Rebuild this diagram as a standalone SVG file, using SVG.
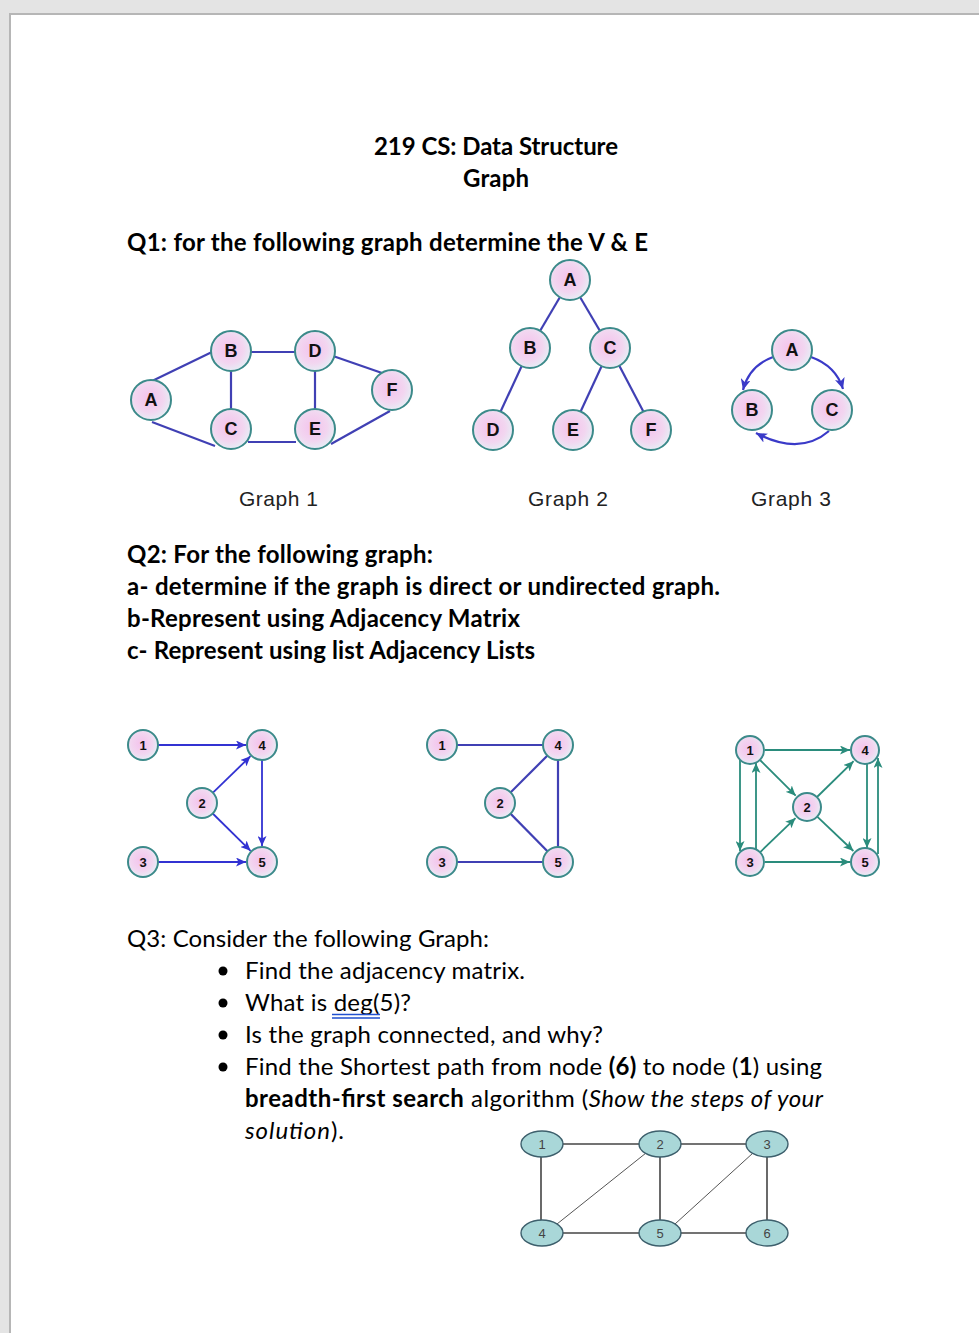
<svg xmlns="http://www.w3.org/2000/svg" width="979" height="1333" viewBox="0 0 979 1333">
<defs>
<radialGradient id="pink" cx="0.45" cy="0.45" r="0.6">
<stop offset="0" stop-color="#f4c2ec"/>
<stop offset="0.6" stop-color="#f2d6f0"/>
<stop offset="1" stop-color="#e4f2f6"/>
</radialGradient>
<marker id="arB" markerUnits="userSpaceOnUse" markerWidth="10" markerHeight="9" refX="10" refY="4.5" orient="auto"><path d="M0,0 L10,4.5 L0,9 L2.5,4.5 z" fill="#3232d2"/></marker>
<marker id="arB2" markerUnits="userSpaceOnUse" markerWidth="11" markerHeight="10" refX="11" refY="5" orient="auto"><path d="M0,0 L11,5 L0,10 L3,5 z" fill="#3a3ac8"/></marker>
<marker id="arT" markerUnits="userSpaceOnUse" markerWidth="10" markerHeight="9" refX="10" refY="4.5" orient="auto"><path d="M0,0 L10,4.5 L0,9 L2.5,4.5 z" fill="#2a8c7c"/></marker>
<style>
.t{font-family:"Lato","Open Sans",sans-serif;font-size:24px;fill:#000}
.b{font-weight:bold}
.i{font-style:italic}
.gl{font-family:"Liberation Sans",Arial,sans-serif;font-size:21px;fill:#222}
.n{fill:url(#pink);stroke:#3c8a8a;stroke-width:2}
.nl{font-family:"Liberation Sans",Arial,sans-serif;font-weight:bold;font-size:18px;fill:#111;text-anchor:middle}
.ns{font-family:"Liberation Sans",Arial,sans-serif;font-weight:bold;font-size:13px;fill:#111;text-anchor:middle}
.e{stroke:#4040b4;stroke-width:2.2;fill:none}
.ed{stroke:#3232d2;stroke-width:1.8;fill:none;marker-end:url(#arB)}
.ea{stroke:#3a3ac8;stroke-width:2.2;fill:none;marker-end:url(#arB2)}
.et{stroke:#2a8c7c;stroke-width:1.8;fill:none;marker-end:url(#arT)}
.q{stroke:#444;stroke-width:1.6;fill:none}
.qt{stroke:#555;stroke-width:1;fill:none}
.el{fill:#a9d7d8;stroke:#3d5f6c;stroke-width:1.4}
.el2{font-family:"Liberation Sans",Arial,sans-serif;font-size:13px;fill:#444;text-anchor:middle}
</style>
</defs>
<rect x="0" y="0" width="979" height="1333" fill="#e4e4e4"/>
<rect x="10" y="14" width="980" height="1330" fill="#ffffff" stroke="#b6b6b6" stroke-width="2"/>

<g id="texts">
<text class="t b" x="374" y="155" textLength="244" lengthAdjust="spacing">219 CS: Data Structure</text>
<text class="t b" x="463" y="187" textLength="66" lengthAdjust="spacing">Graph</text>
<text class="t b" x="127" y="251" textLength="521" lengthAdjust="spacing">Q1: for the following graph determine the V &amp; E</text>
<text class="gl" x="239" y="506" textLength="79" lengthAdjust="spacing">Graph 1</text>
<text class="gl" x="528" y="506" textLength="80" lengthAdjust="spacing">Graph 2</text>
<text class="gl" x="751" y="506" textLength="80" lengthAdjust="spacing">Graph 3</text>
<text class="t b" x="127" y="563" textLength="306" lengthAdjust="spacing">Q2: For the following graph:</text>
<text class="t b" x="127" y="595" textLength="593" lengthAdjust="spacing">a- determine if the graph is direct or undirected graph.</text>
<text class="t b" x="127" y="627" textLength="393" lengthAdjust="spacing">b-Represent using Adjacency Matrix</text>
<text class="t b" x="127" y="659" textLength="408" lengthAdjust="spacing">c- Represent using list Adjacency Lists</text>
<text class="t" x="127" y="947" textLength="362" lengthAdjust="spacing">Q3: Consider the following Graph:</text>
<circle cx="223" cy="971" r="4.5" fill="#000"/>
<circle cx="223" cy="1003" r="4.5" fill="#000"/>
<circle cx="223" cy="1035" r="4.5" fill="#000"/>
<circle cx="223" cy="1067" r="4.5" fill="#000"/>
<text class="t" x="245" y="979" textLength="280" lengthAdjust="spacing">Find the adjacency matrix.</text>
<text class="t" x="245" y="1011" textLength="166" lengthAdjust="spacing">What is deg(5)?</text>
<path d="M332,1014.5 H380 M332,1018 H380" stroke="#2050d0" stroke-width="1.3"/>
<text class="t" x="245" y="1043" textLength="358" lengthAdjust="spacing">Is the graph connected, and why?</text>
<text class="t" x="245" y="1075" textLength="577" lengthAdjust="spacing">Find the Shortest path from node <tspan class="b">(6)</tspan> to node (<tspan class="b">1</tspan>) using</text>
<text class="t" x="245" y="1107" textLength="578" lengthAdjust="spacing"><tspan class="b">breadth-first search</tspan> algorithm (<tspan class="i">Show the steps of your</tspan></text>
<text class="t" x="245" y="1139" textLength="99" lengthAdjust="spacing"><tspan class="i">solution</tspan>).</text>
</g>

<g id="connectors">
<!-- Graph 1 -->
<line class="e" x1="150" y1="382" x2="212" y2="352"/>
<line class="e" x1="152" y1="422" x2="215" y2="446"/>
<line class="e" x1="232" y1="352" x2="315" y2="352"/>
<line class="e" x1="231" y1="352" x2="231" y2="428"/>
<line class="e" x1="315" y1="352" x2="315" y2="428"/>
<line class="e" x1="248" y1="442" x2="296" y2="442"/>
<line class="e" x1="333" y1="356" x2="382" y2="373"/>
<line class="e" x1="331" y1="444" x2="390" y2="411"/>
<!-- Graph 2 -->
<line class="e" x1="570" y1="280" x2="530" y2="348"/>
<line class="e" x1="570" y1="280" x2="610" y2="348"/>
<line class="e" x1="530" y1="348" x2="493" y2="428"/>
<line class="e" x1="610" y1="348" x2="573" y2="428"/>
<line class="e" x1="610" y1="348" x2="652" y2="428"/>
<!-- Graph 3 -->
<path class="ea" d="M773,357 Q749,366 743,390"/>
<path class="ea" d="M811,357 Q836,366 843,389"/>
<path class="ea" d="M829,431 Q800,456 756,433"/>
<!-- Q2 directed -->
<line class="ed" x1="158" y1="745" x2="246" y2="745"/>
<line class="ed" x1="213" y1="792.6" x2="250.5" y2="756.2"/>
<line class="ed" x1="212.7" y1="813.5" x2="250.6" y2="850.8"/>
<line class="ed" x1="262" y1="760" x2="262" y2="846"/>
<line class="ed" x1="158" y1="862" x2="246" y2="862"/>
<!-- Q2 undirected -->
<line class="e" x1="442" y1="745" x2="558" y2="745"/>
<line class="e" x1="558" y1="745" x2="500" y2="803"/>
<line class="e" x1="500" y1="803" x2="558" y2="862"/>
<line class="e" x1="558" y1="745" x2="558" y2="862"/>
<line class="e" x1="442" y1="862" x2="558" y2="862"/>
<!-- Q2 teal -->
<line class="et" x1="765" y1="750" x2="850" y2="750"/>
<line class="et" x1="760" y1="760" x2="795.7" y2="795.7"/>
<line class="et" x1="817" y1="797" x2="853.6" y2="761.2"/>
<line class="et" x1="817.2" y1="816.6" x2="853.4" y2="851"/>
<line class="et" x1="760" y1="852.3" x2="795.5" y2="818.1"/>
<line class="et" x1="765" y1="862" x2="850" y2="862"/>
<line class="et" x1="740" y1="760" x2="740" y2="851"/>
<line class="et" x1="756" y1="849" x2="756" y2="763"/>
<line class="et" x1="867" y1="764" x2="867" y2="848"/>
<line class="et" x1="878" y1="854" x2="878" y2="758"/>
<!-- Q3 -->
<line class="q" x1="541" y1="1144" x2="660" y2="1144"/>
<line class="q" x1="660" y1="1144" x2="767" y2="1144"/>
<line class="q" x1="541" y1="1144" x2="541" y2="1233"/>
<line class="q" x1="660" y1="1144" x2="660" y2="1233"/>
<line class="q" x1="767" y1="1144" x2="767" y2="1233"/>
<line class="q" x1="541" y1="1233" x2="660" y2="1233"/>
<line class="q" x1="660" y1="1233" x2="767" y2="1233"/>
<line class="qt" x1="557" y1="1224" x2="646" y2="1153"/>
<line class="qt" x1="675" y1="1224" x2="753" y2="1153"/>
</g>

<g id="g1-A"><circle class="n" cx="151" cy="400" r="20"/><text class="nl" x="151" y="406">A</text></g>
<g id="g1-B"><circle class="n" cx="231" cy="351" r="20"/><text class="nl" x="231" y="357">B</text></g>
<g id="g1-D"><circle class="n" cx="315" cy="351" r="20"/><text class="nl" x="315" y="357">D</text></g>
<g id="g1-F"><circle class="n" cx="392" cy="390" r="20"/><text class="nl" x="392" y="396">F</text></g>
<g id="g1-C"><circle class="n" cx="231" cy="429" r="20"/><text class="nl" x="231" y="435">C</text></g>
<g id="g1-E"><circle class="n" cx="315" cy="429" r="20"/><text class="nl" x="315" y="435">E</text></g>

<g id="g2-A"><circle class="n" cx="570" cy="280" r="20"/><text class="nl" x="570" y="286">A</text></g>
<g id="g2-B"><circle class="n" cx="530" cy="348" r="20"/><text class="nl" x="530" y="354">B</text></g>
<g id="g2-C"><circle class="n" cx="610" cy="348" r="20"/><text class="nl" x="610" y="354">C</text></g>
<g id="g2-D"><circle class="n" cx="493" cy="430" r="20"/><text class="nl" x="493" y="436">D</text></g>
<g id="g2-E"><circle class="n" cx="573" cy="430" r="20"/><text class="nl" x="573" y="436">E</text></g>
<g id="g2-F"><circle class="n" cx="651" cy="430" r="20"/><text class="nl" x="651" y="436">F</text></g>

<g id="g3-A"><circle class="n" cx="792" cy="350" r="20"/><text class="nl" x="792" y="356">A</text></g>
<g id="g3-B"><circle class="n" cx="752" cy="410" r="20"/><text class="nl" x="752" y="416">B</text></g>
<g id="g3-C"><circle class="n" cx="832" cy="410" r="20"/><text class="nl" x="832" y="416">C</text></g>

<g id="d-1"><circle class="n" cx="143" cy="745" r="15"/><text class="ns" x="143" y="750">1</text></g>
<g id="d-4"><circle class="n" cx="262" cy="745" r="15"/><text class="ns" x="262" y="750">4</text></g>
<g id="d-2"><circle class="n" cx="202" cy="803" r="15"/><text class="ns" x="202" y="808">2</text></g>
<g id="d-3"><circle class="n" cx="143" cy="862" r="15"/><text class="ns" x="143" y="867">3</text></g>
<g id="d-5"><circle class="n" cx="262" cy="862" r="15"/><text class="ns" x="262" y="867">5</text></g>

<g id="u-1"><circle class="n" cx="442" cy="745" r="15"/><text class="ns" x="442" y="750">1</text></g>
<g id="u-4"><circle class="n" cx="558" cy="745" r="15"/><text class="ns" x="558" y="750">4</text></g>
<g id="u-2"><circle class="n" cx="500" cy="803" r="15"/><text class="ns" x="500" y="808">2</text></g>
<g id="u-3"><circle class="n" cx="442" cy="862" r="15"/><text class="ns" x="442" y="867">3</text></g>
<g id="u-5"><circle class="n" cx="558" cy="862" r="15"/><text class="ns" x="558" y="867">5</text></g>

<g id="t-1"><circle class="n" cx="750" cy="750" r="14"/><text class="ns" x="750" y="755">1</text></g>
<g id="t-4"><circle class="n" cx="865" cy="750" r="14"/><text class="ns" x="865" y="755">4</text></g>
<g id="t-2"><circle class="n" cx="807" cy="807" r="14"/><text class="ns" x="807" y="812">2</text></g>
<g id="t-3"><circle class="n" cx="750" cy="862" r="14"/><text class="ns" x="750" y="867">3</text></g>
<g id="t-5"><circle class="n" cx="865" cy="862" r="14"/><text class="ns" x="865" y="867">5</text></g>

<g id="q-1"><ellipse class="el" cx="542" cy="1144" rx="21" ry="13"/><text class="el2" x="542" y="1149">1</text></g>
<g id="q-2"><ellipse class="el" cx="660" cy="1144" rx="21" ry="13"/><text class="el2" x="660" y="1149">2</text></g>
<g id="q-3"><ellipse class="el" cx="767" cy="1144" rx="21" ry="13"/><text class="el2" x="767" y="1149">3</text></g>
<g id="q-4"><ellipse class="el" cx="542" cy="1233" rx="21" ry="13"/><text class="el2" x="542" y="1238">4</text></g>
<g id="q-5"><ellipse class="el" cx="660" cy="1233" rx="21" ry="13"/><text class="el2" x="660" y="1238">5</text></g>
<g id="q-6"><ellipse class="el" cx="767" cy="1233" rx="21" ry="13"/><text class="el2" x="767" y="1238">6</text></g>
</svg>
